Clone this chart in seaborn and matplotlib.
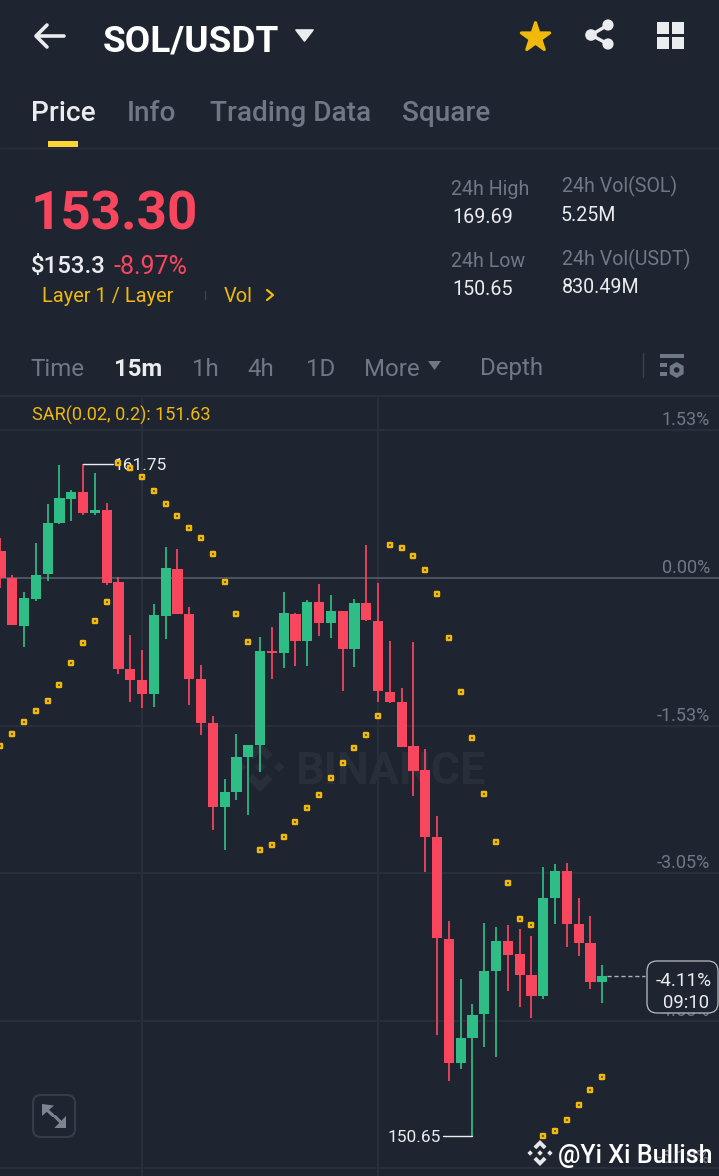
"""
SOL/USDT 15m candles with parabolic SAR, mobile app screenshot look
"""
import matplotlib
matplotlib.use("Agg")
import matplotlib.pyplot as plt
from matplotlib.markers import MarkerStyle
from matplotlib.patches import FancyBboxPatch, Polygon, Rectangle, Circle, RegularPolygon
import numpy as np
import pandas as pd
import seaborn as sns

BG = "#1f2530"
GREEN = "#2ebd85"
RED = "#f9465f"
YELLOW = "#f0b90b"
WHITE = "#eaecef"
GREY = "#6f7885"
GRID = "#2a303b"
DPI = 100

highs = [160.53, 159.92, 159.64, 160.45, 161.09, 161.74, 161.32, 161.75, 161.61, 161.11,
         159.89, 158.93, 158.68, 159.44, 160.38, 160.35, 159.39, 158.43, 157.59, 156.55,
         157.29, 157.11, 158.89, 159.06, 159.64, 159.29, 159.51, 159.77, 159.59, 159.32,
         159.52, 160.42, 159.79, 158.83, 158.05, 158.81, 157.04, 155.94, 154.20, 153.24,
         152.83, 154.17, 154.10, 154.13, 154.07, 153.95, 155.09, 155.14, 155.16, 154.58,
         154.28, 153.47]
lows = [159.70, 159.09, 158.73, 159.49, 159.82, 160.76, 160.81, 160.91, 160.91, 159.75,
        158.28, 157.82, 157.72, 157.74, 158.86, 159.27, 157.77, 157.27, 155.70, 155.37,
        156.20, 155.95, 156.66, 158.20, 158.38, 158.42, 158.42, 158.91, 158.88, 158.00,
        158.40, 159.16, 157.82, 157.80, 157.08, 156.27, 155.01, 152.32, 151.56, 151.75,
        150.65, 152.12, 151.95, 153.04, 152.78, 152.60, 152.91, 154.15, 153.77, 153.62,
        153.08, 152.85]
opens = [160.32, 159.87, 159.08, 159.52, 159.94, 160.78, 161.18, 161.29, 160.94, 160.99,
         159.80, 158.37, 158.18, 157.95, 159.24, 160.02, 159.27, 158.20, 157.47, 156.08,
         156.33, 156.91, 157.11, 158.66, 158.63, 159.27, 158.83, 159.47, 159.13, 159.32,
         158.70, 159.46, 159.16, 157.99, 157.82, 157.09, 156.70, 155.59, 153.90, 151.85,
         152.27, 152.66, 153.37, 153.87, 153.65, 153.31, 152.96, 154.58, 155.03, 154.15,
         153.84, 153.19]
closes = [159.87, 159.09, 159.54, 159.92, 160.78, 161.19, 161.29, 160.94, 160.99, 159.79,
          158.37, 158.18, 157.95, 159.26, 160.04, 159.27, 158.20, 157.47, 156.08, 156.33,
          156.91, 157.11, 158.66, 158.63, 159.29, 158.83, 159.47, 159.13, 159.32, 158.70,
          159.46, 159.18, 158.00, 157.82, 157.08, 156.68, 155.59, 153.92, 151.85, 152.27,
          152.65, 153.37, 153.87, 153.64, 153.31, 152.96, 154.58, 155.03, 154.15, 153.84,
          153.19, 153.29]
sar = [157.09, 157.29, 157.49, 157.67, 157.84, 158.10, 158.47, 158.80, 159.16, 159.47,
       161.77, 161.69, 161.54, 161.31, 161.09, 160.90, 160.70, 160.53, 160.27, 159.80,
       159.27, 158.81, 155.37, 155.46, 155.59, 155.84, 156.07, 156.28, 156.56, 156.81,
       157.06, 157.27, 157.59, 160.42, 160.37, 160.23, 160.00, 159.61, 158.88, 157.99,
       157.23, 156.30, 155.51, 154.83, 154.23, 154.13, 150.65, 150.73, 150.91, 151.16,
       151.41, 151.62]

BASE_PRICE = 159.87
pct_ticks = [1.53, 0.00, -1.53, -3.05, -4.58, -6.10]
pct_labels = ["1.53%", "0.00%", "-1.53%", "-3.05%", "-4.58%", "-6.10%"]
vgrid_idx = [12, 32]

tabs = [("Price", 31, WHITE), ("Info", 127, GREY), ("Trading Data", 210, GREY), ("Square", 402, GREY)]
periods = [("Time", 30, GREY, "normal"), ("15m", 114.5, WHITE, "bold"), ("1h", 191.5, GREY, "normal"),
           ("4h", 247.5, GREY, "normal"), ("1D", 305.5, GREY, "normal"), ("More", 364.5, GREY, "normal"),
           ("Depth", 480.5, GREY, "normal")]
stats = [("24h High", 451, 187.5, GREY), ("169.69", 452, 215.5, WHITE),
         ("24h Vol(SOL)", 562, 184.5, GREY), ("5.25M", 561, 213.5, WHITE),
         ("24h Low", 451, 259.5, GREY), ("150.65", 452, 287.5, WHITE),
         ("24h Vol(USDT)", 562, 257.5, GREY), ("830.49M", 562, 285.5, WHITE)]


def label(ax, x, y, s, px, color=WHITE, weight="normal", ha="left", zorder=5):
    """Put text at pixel position, size given in pixels"""
    return ax.text(x, y, s, fontsize=px * 72 / DPI, color=color, fontweight=weight,
                   ha=ha, va="center_baseline", zorder=zorder)


def binance_logo(ax, cx, cy, r, color, zorder=1):
    """The diamond mark, built from small polygons"""
    shapes = [[(0, .21), (.21, 0), (0, -.21), (-.21, 0)],
              [(-.76, .21), (-.55, 0), (-.76, -.21), (-.97, 0)],
              [(.76, .21), (.97, 0), (.76, -.21), (.55, 0)],
              [(0, 1), (.5, .5), (.29, .29), (0, .58), (-.29, .29), (-.5, .5)],
              [(0, -1), (.5, -.5), (.29, -.29), (0, -.58), (-.29, -.29), (-.5, -.5)]]
    for shape in shapes:
        pts = [(cx + r * a, cy + r * b) for a, b in shape]
        ax.add_patch(Polygon(pts, closed=True, facecolor=color, edgecolor="none", zorder=zorder))


def pixel_axes(fig, zorder):
    ax = fig.add_axes([0, 0, 1, 1], zorder=zorder)
    ax.set_xlim(0, 719)
    ax.set_ylim(1176, 0)
    ax.axis("off")
    ax.patch.set_alpha(0)
    return ax


def draw_header(ax):
    # top bar
    ax.plot([37, 64], [36, 36], color=WHITE, lw=2.6, solid_capstyle="round")
    ax.plot([47, 36, 47], [25, 36, 47], color=WHITE, lw=2.6, solid_capstyle="round", solid_joinstyle="round")
    label(ax, 103, 37, "SOL/USDT", 37, "#ffffff", "bold")
    ax.add_patch(Polygon([(296, 30), (313, 30), (304.5, 41)], facecolor=WHITE, edgecolor=WHITE,
                         lw=1.2, joinstyle="round"))
    ax.scatter([535], [36.5], marker=MarkerStyle("*", joinstyle="round"), s=460, color=YELLOW,
               edgecolors=YELLOW, linewidths=2.2)
    ax.plot([608, 591, 608], [25, 35, 44], color=WHITE, lw=2.4)
    for cx, cy, r in [(608, 25, 5.6), (591, 35, 5.8), (608, 44, 5.6)]:
        ax.add_patch(Circle((cx, cy), r, facecolor=WHITE, edgecolor="none"))
    for x0, y0 in [(656.7, 21.7), (671.7, 21.7), (656.7, 36.7), (671.7, 36.7)]:
        ax.add_patch(Rectangle((x0, y0), 12, 12, facecolor=WHITE, edgecolor="none"))

    # tabs
    for text, x, color in tabs:
        label(ax, x, 110.5, text, 28, color, "medium")
    ax.add_patch(Rectangle((48, 141), 30, 6, facecolor="#fcd535", edgecolor="none"))
    ax.plot([0, 719], [148, 148], color=GRID, lw=1)

    # price block
    label(ax, 31, 210, "153.30", 53, RED, "bold")
    label(ax, 31, 264, "$153.3", 24, WHITE, "medium")
    label(ax, 114, 264, "-8.97%", 25, RED)
    label(ax, 42, 295, "Layer 1 / Layer", 20, YELLOW)
    ax.plot([204.5, 204.5], [291, 299], color="#3c4350", lw=1)
    label(ax, 224, 295, "Vol", 20, YELLOW)
    ax.plot([267, 273, 267], [290, 295, 300], color=YELLOW, lw=1.6)
    for text, x, y, color in stats:
        label(ax, x, y, text, 19.6, color)

    # period row
    for text, x, color, weight in periods:
        label(ax, x, 366.5, text, 24, color, weight)
    ax.add_patch(Polygon([(428, 361), (441, 361), (434.5, 370)], facecolor=GREY, edgecolor="none"))
    ax.plot([643, 643], [353, 377], color="#3c4350", lw=1)
    ax.add_patch(Rectangle((660.3, 354), 23.5, 4, facecolor=GREY, edgecolor="none"))
    ax.add_patch(Rectangle((660, 363), 7, 4, facecolor=GREY, edgecolor="none"))
    ax.add_patch(Rectangle((660, 371.7), 7, 4, facecolor=GREY, edgecolor="none"))
    ax.add_patch(RegularPolygon((676.7, 370), 6, radius=8, facecolor=GREY, edgecolor="none"))
    ax.add_patch(Circle((676.7, 370), 2.8, facecolor=BG, edgecolor="none"))
    ax.plot([0, 719], [396, 396], color=GRID, lw=1.4)

    # watermark sits under the candles
    binance_logo(ax, 260, 767, 25, "#292f3a")
    label(ax, 295, 767, "BINANCE", 45, "#292f3a", "bold", zorder=1)


def draw_chart(ax):
    idx = np.arange(len(opens))
    df = pd.DataFrame({"idx": idx, "open": opens, "close": closes, "high": highs, "low": lows, "sar": sar})
    colors = [GREEN if c >= o else RED for o, c in zip(df["open"], df["close"])]

    ax.vlines(df["idx"], df["low"], df["high"], colors=colors, lw=1.25, zorder=3)
    ax.bar(df["idx"], (df["close"] - df["open"]).abs().clip(lower=0.03),
           bottom=df[["open", "close"]].min(axis=1), width=0.85, color=colors, linewidth=0, zorder=4)
    sns.scatterplot(data=df, x="idx", y="sar", marker="s", s=12, facecolor=BG, edgecolor=YELLOW,
                    linewidth=1.75, zorder=5, ax=ax, legend=False)

    ax.set_xlim(-0.042, 60.89)
    ax.set_ylim(BASE_PRICE - 598 / 60.5, BASE_PRICE + 182 / 60.5)
    ax.set_xlabel("")
    ax.set_ylabel("")
    ax.set_xticks(vgrid_idx)
    grid_prices = [BASE_PRICE * (1 + p / 100) for p in pct_ticks]
    ax.set_yticks(grid_prices)
    ax.tick_params(length=0, labelbottom=False, labelleft=False)
    ax.grid(True, color=GRID, lw=1.4)
    ax.axhline(BASE_PRICE, color="#4e5561", lw=1.4, zorder=1)
    sns.despine(ax=ax, left=True, bottom=True)
    ax.patch.set_alpha(0)

    # high / low markers tied to the data
    hi = int(np.argmax(highs))
    lo = int(np.argmin(lows))
    ax.plot([hi, hi + 2.55], [highs[hi], highs[hi]], color=WHITE, lw=1, zorder=3)
    ax.annotate(f"{highs[hi]:.2f}", (hi + 2.6, highs[hi]), xytext=(0, -1), textcoords="offset points",
                color=WHITE, fontsize=12.4, va="center", zorder=4)
    ax.plot([lo - 2.5, lo], [lows[lo], lows[lo]], color=WHITE, lw=1, zorder=3)
    ax.annotate(f"{lows[lo]:.2f}", (lo - 2.65, lows[lo]), xytext=(0, -1), textcoords="offset points",
                color=WHITE, fontsize=12.4, va="center", ha="right", zorder=4)
    ax.plot([51.4, 54.6], [closes[-1], closes[-1]], color="#aeb4bc", lw=1, ls=(0, (3, 2)), zorder=3)

    for price, text in zip(grid_prices, pct_labels):
        ax.annotate(text, (1, price), xycoords=("axes fraction", "data"), xytext=(-6.5, 0.4),
                    textcoords="offset points", ha="right", va="bottom", fontsize=13, color=GREY, zorder=2)


def draw_overlay(ax):
    label(ax, 32, 413, "SAR(0.02, 0.2): 151.63", 18, YELLOW)

    # last price bubble
    ax.add_patch(FancyBboxPatch((647, 961), 71, 52, boxstyle="round,pad=0,rounding_size=10",
                                facecolor=BG, edgecolor="#b7bcc4", lw=0.9, zorder=3))
    label(ax, 711.5, 979, "-4.11%", 19, WHITE, ha="right")
    label(ax, 709, 1001, "09:10", 18.5, WHITE, ha="right")

    # expand button
    ax.add_patch(FancyBboxPatch((33, 1095), 42, 42, boxstyle="round,pad=0,rounding_size=8",
                                facecolor=BG, edgecolor="#363d4a", lw=1.5))
    ax.add_patch(Polygon([(42, 1104), (54, 1105.5), (42, 1116)], facecolor="#7b8490", edgecolor="none"))
    ax.plot([47, 53], [1110, 1115.5], color="#7b8490", lw=2.2)
    ax.add_patch(Polygon([(66, 1128), (54.3, 1128), (66, 1116)], facecolor="#7b8490", edgecolor="none"))
    ax.plot([55, 61], [1116.5, 1122.5], color="#7b8490", lw=2.2)

    # uploader tag
    binance_logo(ax, 540, 1153, 13, "#e6e8ea", zorder=6)
    label(ax, 558, 1153, "@Yi Xi Bullish", 25, "#ffffff", "medium", zorder=6)


def main():
    sns.set_theme(style="dark", rc={"figure.facecolor": BG, "axes.facecolor": BG})
    plt.rcParams["font.family"] = ["Roboto", "DejaVu Sans"]

    fig = plt.figure(figsize=(7.19, 11.76), dpi=DPI, facecolor=BG)
    back = pixel_axes(fig, 0)
    chart = fig.add_axes([0, 0, 1, 780 / 1176], zorder=1)
    front = pixel_axes(fig, 2)

    draw_header(back)
    draw_chart(chart)
    draw_overlay(front)

    fig.savefig("out.png", dpi=DPI, facecolor=BG)


if __name__ == "__main__":
    main()
